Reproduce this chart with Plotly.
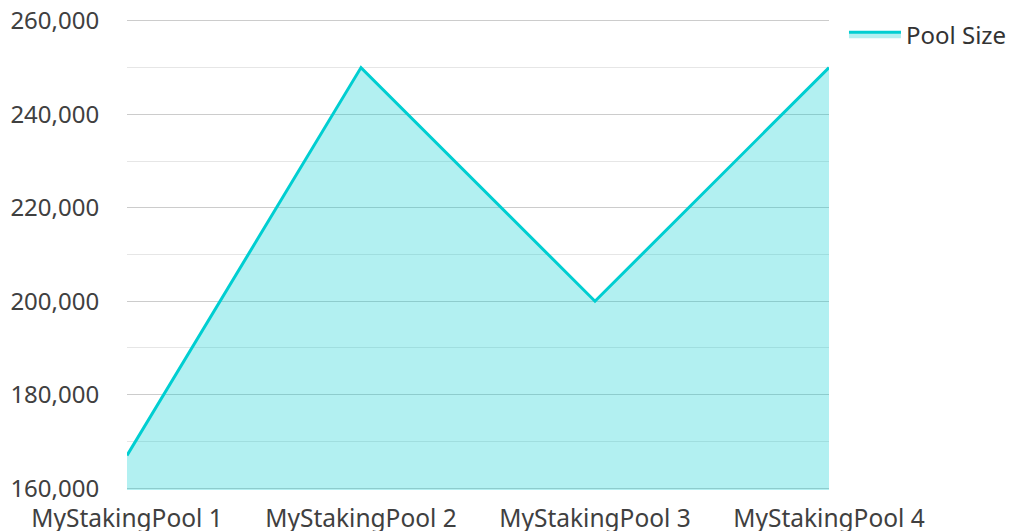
import plotly.graph_objects as go

categories = ["MyStakingPool 1", "MyStakingPool 2", "MyStakingPool 3", "MyStakingPool 4"]
pool_size = [167000, 250000, 200000, 250000]
y_ticks = [160000, 180000, 200000, 220000, 240000, 260000]
y_tick_labels = ["160,000", "180,000", "200,000", "220,000", "240,000", "260,000"]

fig = go.Figure()
fig.add_trace(go.Scatter(
    x=categories, y=pool_size, name="Pool Size", mode="lines",
    line=dict(color="#00CED1", width=3),
    fill="tozeroy", fillcolor="rgba(0,206,209,0.3)",
))

# page body has an 8px default margin, so the figure is sized/margined to compensate
fig.update_layout(
    width=1010, height=523,
    margin=dict(l=119, r=189, t=11, b=41),
    paper_bgcolor="white", plot_bgcolor="white",
    font=dict(family="Noto Sans", size=24, color="#404040"),
    showlegend=True,
    legend=dict(xref="container", yref="container", x=0.8277, y=0.9923,
                xanchor="left", yanchor="top", itemwidth=52,
                font=dict(size=24, color="#333333"), bgcolor="rgba(0,0,0,0)"),
    xaxis=dict(range=[0, 3], showgrid=False, zeroline=False, showline=False,
               automargin=False, tickfont=dict(size=24.5), ticklabeloverflow="allow",
               ticks="outside", ticklen=7, tickcolor="rgba(0,0,0,0)"),
    yaxis=dict(range=[159600, 260400], tickvals=y_ticks, ticktext=y_tick_labels,
               showgrid=True, gridcolor="#cccccc", gridwidth=1,
               zeroline=False, showline=False, automargin=False,
               ticklabeloverflow="allow",
               ticks="outside", ticklen=22, tickcolor="rgba(0,0,0,0)",
               minor=dict(dtick=10000, tick0=160000, showgrid=True, gridcolor="#e6e6e6")),
)

fig.write_html("out.html")
